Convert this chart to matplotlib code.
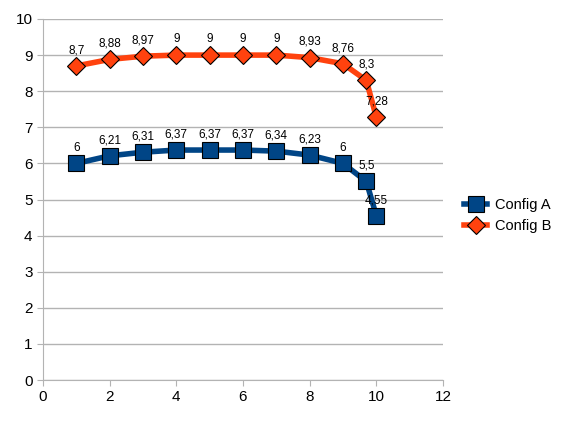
import matplotlib.pyplot as plt

plt.rcParams['font.family'] = ['Liberation Sans', 'DejaVu Sans']

# 数据
x_vals = [1, 2, 3, 4, 5, 6, 7, 8, 9, 9.7, 10]
config_a = [6, 6.21, 6.31, 6.37, 6.37, 6.37, 6.34, 6.23, 6, 5.5, 4.55]
config_b = [8.7, 8.88, 8.97, 9, 9, 9, 9, 8.93, 8.76, 8.3, 7.28]
series_names = ['Config A', 'Config B']


def fmt(v):
    return ('%g' % v).replace('.', ',')


fig = plt.figure(figsize=(5.72, 4.33), dpi=100)
ax = fig.add_axes([43 / 572, 1 - 380 / 433, 400 / 572, 361 / 433])

ax.plot(x_vals, config_a, color='#004586', linewidth=4, marker='s', markersize=12,
        markeredgecolor='black', markeredgewidth=0.8, label=series_names[0], zorder=3)
ax.plot(x_vals, config_b, color='#ff420e', linewidth=4, marker='D', markersize=9,
        markeredgecolor='black', markeredgewidth=0.8, label=series_names[1], zorder=3)

for xs, ys in [(x_vals, config_a), (x_vals, config_b)]:
    for xv, yv in zip(xs, ys):
        ax.annotate(fmt(yv), (xv, yv), xytext=(0, 7), textcoords='offset points',
                    ha='center', va='bottom', fontsize=8.5, zorder=4)

ax.set_xlim(0, 12)
ax.set_ylim(0, 10)
ax.set_xticks(range(0, 13, 2))
ax.set_yticks(range(0, 11))
ax.grid(axis='y', color='#b3b3b3', linewidth=1)
ax.set_axisbelow(True)
for side in ['top', 'right', 'left', 'bottom']:
    ax.spines[side].set_color('#b3b3b3')
ax.spines['top'].set_visible(False)
ax.spines['right'].set_visible(False)
ax.tick_params(colors='#b3b3b3', labelcolor='black', labelsize=11, length=4)

ax.legend(loc='center left', bbox_to_anchor=(1.02, 0.455), frameon=False, fontsize=10.5,
          handlelength=1.6, handletextpad=0.5, labelspacing=0.5)

fig.savefig('out.png', dpi=100)
